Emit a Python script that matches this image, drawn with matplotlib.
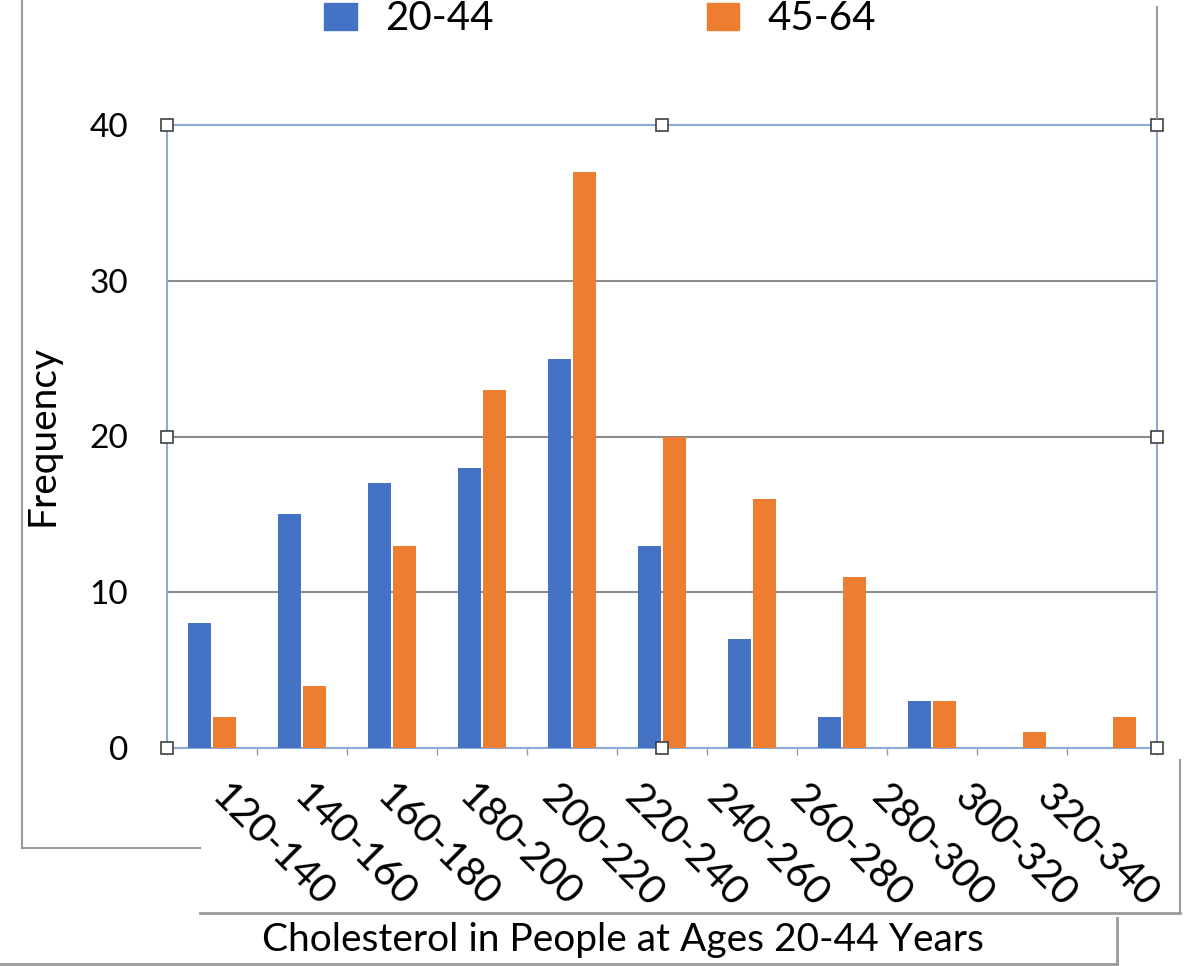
import matplotlib
matplotlib.use("Agg")
import matplotlib.pyplot as plt
import numpy as np
from matplotlib.lines import Line2D
from matplotlib.patches import Patch

# cholesterol ranges and frequencies
ranges = ['120-140', '140-160', '160-180', '180-200', '200-220', '220-240',
          '240-260', '260-280', '280-300', '300-320', '320-340']
ages_20_44 = [8, 15, 17, 18, 25, 13, 7, 2, 3, 0, 0]
ages_45_64 = [2, 4, 13, 23, 37, 20, 16, 11, 3, 1, 2]
series_names = ['20-44', '45-64']
yticks = [0, 10, 20, 30, 40]

blue = '#4472C4'
orange = '#ED7D31'
frame_blue = '#8EAADB'
gray = '#9a9a9a'

plt.rcParams['font.family'] = ['Lato', 'DejaVu Sans']

W, H = 1200, 966
fig = plt.figure(figsize=(W / 100, H / 100), dpi=100)
ax = fig.add_axes([167 / W, 1 - 748 / H, 990 / W, 623 / H])

x = np.arange(len(ranges))
bw = 0.25
ax.bar(x - 0.14, ages_20_44, bw, color=blue, zorder=3)
ax.bar(x + 0.14, ages_45_64, bw, color=orange, zorder=3)

ax.set_xlim(-0.5, len(ranges) - 0.5)
ax.set_ylim(0, 40)
ax.set_yticks(yticks)
ax.yaxis.grid(True, color='#8c8c8c', linewidth=1.5, zorder=1)
ax.set_axisbelow(True)

for s in ax.spines.values():
    s.set_color(frame_blue)
    s.set_linewidth(1.5)

ax.tick_params(axis='y', length=0, pad=28, labelsize=24)

# the category labels sit a bit tighter than the categories themselves
label_pos = 0.06 + 0.917 * x
ax.set_xticks(label_pos)
ax.set_xticklabels(ranges, fontsize=29, rotation=-45, ha='left', va='center',
                   rotation_mode='anchor')
ax.tick_params(axis='x', length=0, pad=31)
ax.set_xticks(np.arange(len(ranges) + 1) - 0.5, minor=True)
ax.tick_params(axis='x', which='minor', length=5, color=gray, width=1)

fig.text(42 / W, 1 - 435 / H, 'Frequency', rotation=90, fontsize=28,
         ha='center', va='center')
fig.text(623 / W, 1 - 940 / H, 'Cholesterol in People at Ages 20-44 Years',
         fontsize=28, ha='center', va='center')

# legend across the top
handles = [Patch(color=blue), Patch(color=orange)]
fig.legend(handles, series_names, loc='center', bbox_to_anchor=(0.5, 1 - 19 / H),
           ncol=2, frameon=False, fontsize=29, handlelength=0.8, handleheight=0.65,
           handletextpad=0.7, columnspacing=5.3)

# selection handles on the plot area
hx = [0, 0.5, 1, 0, 1, 0, 0.5, 1]
hy = [0, 0, 0, 0.5, 0.5, 1, 1, 1]
ax.plot(hx, hy, 's', transform=ax.transAxes, clip_on=False, ms=9,
        mfc='white', mec='#404040', mew=1.2, zorder=6)


def seg(x0, y0, x1, y1, lw=1.5):
    fig.add_artist(Line2D([x0 / W, x1 / W], [1 - y0 / H, 1 - y1 / H],
                          transform=fig.transFigure, color=gray, lw=lw))


# leftover outline pieces of the screenshot
seg(22, 0, 22, 848)
seg(22, 848, 200, 848)
seg(1157, 7, 1157, 118)
seg(1180, 760, 1180, 913)
seg(200, 913, 1180, 913, lw=2)
seg(1117, 918, 1117, 966, lw=2)
seg(0, 964, 1117, 964, lw=2)

fig.savefig('out.png', dpi=100)
